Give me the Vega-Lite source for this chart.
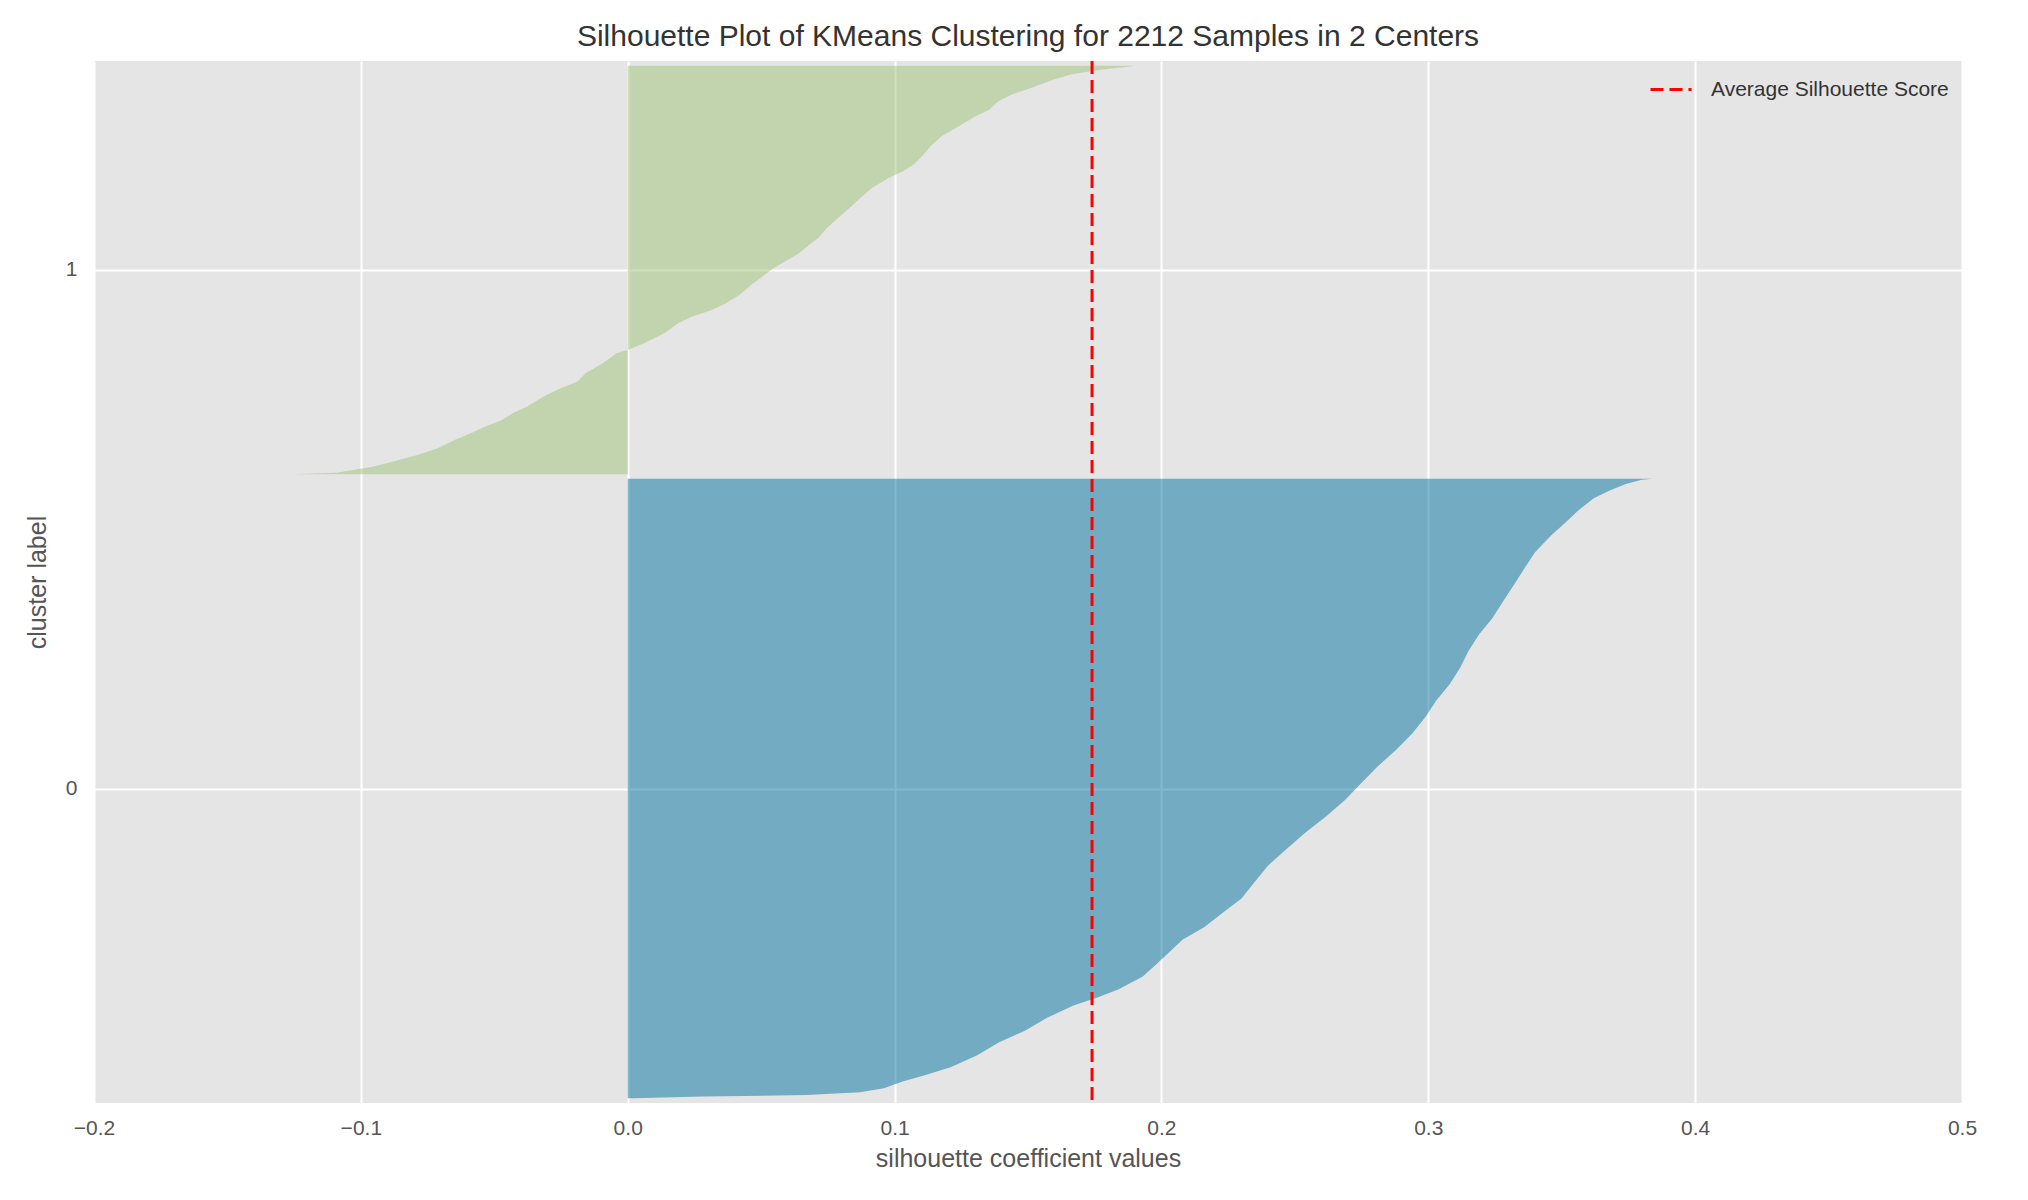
{
  "$schema": "https://vega.github.io/schema/vega-lite/v6.json",
  "autosize": "none",
  "padding": {"left": 94, "top": 61, "right": 66, "bottom": 97},
  "width": 1868,
  "height": 1042,
  "background": "white",
  "title": {
    "text": "Silhouette Plot of KMeans Clustering for 2212 Samples in 2 Centers",
    "fontSize": 30,
    "fontWeight": "normal",
    "color": "#333333",
    "offset": 8
  },
  "datasets": {
    "silhouette": [
      {"cluster": "0", "sample": 10, "coef": 0.002},
      {"cluster": "0", "sample": 14, "coef": 0.028},
      {"cluster": "0", "sample": 17, "coef": 0.067},
      {"cluster": "0", "sample": 23, "coef": 0.087},
      {"cluster": "0", "sample": 32, "coef": 0.096},
      {"cluster": "0", "sample": 46, "coef": 0.103},
      {"cluster": "0", "sample": 59, "coef": 0.111},
      {"cluster": "0", "sample": 77, "coef": 0.121},
      {"cluster": "0", "sample": 103, "coef": 0.131},
      {"cluster": "0", "sample": 130, "coef": 0.139},
      {"cluster": "0", "sample": 156, "coef": 0.149},
      {"cluster": "0", "sample": 183, "coef": 0.157},
      {"cluster": "0", "sample": 210, "coef": 0.167},
      {"cluster": "0", "sample": 227, "coef": 0.176},
      {"cluster": "0", "sample": 245, "coef": 0.184},
      {"cluster": "0", "sample": 272, "coef": 0.193},
      {"cluster": "0", "sample": 298, "coef": 0.198},
      {"cluster": "0", "sample": 325, "coef": 0.203},
      {"cluster": "0", "sample": 352, "coef": 0.208},
      {"cluster": "0", "sample": 378, "coef": 0.216},
      {"cluster": "0", "sample": 405, "coef": 0.222},
      {"cluster": "0", "sample": 440, "coef": 0.230},
      {"cluster": "0", "sample": 476, "coef": 0.235},
      {"cluster": "0", "sample": 511, "coef": 0.240},
      {"cluster": "0", "sample": 547, "coef": 0.247},
      {"cluster": "0", "sample": 582, "coef": 0.254},
      {"cluster": "0", "sample": 618, "coef": 0.262},
      {"cluster": "0", "sample": 653, "coef": 0.269},
      {"cluster": "0", "sample": 689, "coef": 0.275},
      {"cluster": "0", "sample": 724, "coef": 0.281},
      {"cluster": "0", "sample": 760, "coef": 0.288},
      {"cluster": "0", "sample": 795, "coef": 0.294},
      {"cluster": "0", "sample": 831, "coef": 0.299},
      {"cluster": "0", "sample": 866, "coef": 0.303},
      {"cluster": "0", "sample": 901, "coef": 0.308},
      {"cluster": "0", "sample": 937, "coef": 0.312},
      {"cluster": "0", "sample": 972, "coef": 0.315},
      {"cluster": "0", "sample": 1008, "coef": 0.319},
      {"cluster": "0", "sample": 1043, "coef": 0.324},
      {"cluster": "0", "sample": 1079, "coef": 0.328},
      {"cluster": "0", "sample": 1114, "coef": 0.332},
      {"cluster": "0", "sample": 1150, "coef": 0.336},
      {"cluster": "0", "sample": 1185, "coef": 0.340},
      {"cluster": "0", "sample": 1221, "coef": 0.346},
      {"cluster": "0", "sample": 1247, "coef": 0.351},
      {"cluster": "0", "sample": 1274, "coef": 0.356},
      {"cluster": "0", "sample": 1301, "coef": 0.362},
      {"cluster": "0", "sample": 1318, "coef": 0.368},
      {"cluster": "0", "sample": 1332, "coef": 0.374},
      {"cluster": "0", "sample": 1341, "coef": 0.380},
      {"cluster": "0", "sample": 1343, "coef": 0.384},
      {"cluster": "1", "sample": 1353, "coef": -0.1256},
      {"cluster": "1", "sample": 1356, "coef": -0.109},
      {"cluster": "1", "sample": 1362, "coef": -0.103},
      {"cluster": "1", "sample": 1369, "coef": -0.0956},
      {"cluster": "1", "sample": 1380, "coef": -0.0882},
      {"cluster": "1", "sample": 1394, "coef": -0.0788},
      {"cluster": "1", "sample": 1408, "coef": -0.0714},
      {"cluster": "1", "sample": 1426, "coef": -0.0651},
      {"cluster": "1", "sample": 1441, "coef": -0.0588},
      {"cluster": "1", "sample": 1455, "coef": -0.0536},
      {"cluster": "1", "sample": 1469, "coef": -0.0473},
      {"cluster": "1", "sample": 1484, "coef": -0.0431},
      {"cluster": "1", "sample": 1498, "coef": -0.0378},
      {"cluster": "1", "sample": 1520, "coef": -0.0315},
      {"cluster": "1", "sample": 1538, "coef": -0.0252},
      {"cluster": "1", "sample": 1552, "coef": -0.0189},
      {"cluster": "1", "sample": 1570, "coef": -0.0158},
      {"cluster": "1", "sample": 1591, "coef": -0.0095},
      {"cluster": "1", "sample": 1613, "coef": -0.0042},
      {"cluster": "1", "sample": 1620, "coef": 0.0},
      {"cluster": "1", "sample": 1635, "coef": 0.0063},
      {"cluster": "1", "sample": 1656, "coef": 0.0137},
      {"cluster": "1", "sample": 1678, "coef": 0.0189},
      {"cluster": "1", "sample": 1692, "coef": 0.0242},
      {"cluster": "1", "sample": 1706, "coef": 0.0315},
      {"cluster": "1", "sample": 1721, "coef": 0.0368},
      {"cluster": "1", "sample": 1739, "coef": 0.0420},
      {"cluster": "1", "sample": 1760, "coef": 0.0462},
      {"cluster": "1", "sample": 1778, "coef": 0.0504},
      {"cluster": "1", "sample": 1796, "coef": 0.0546},
      {"cluster": "1", "sample": 1814, "coef": 0.0599},
      {"cluster": "1", "sample": 1828, "coef": 0.0641},
      {"cluster": "1", "sample": 1843, "coef": 0.0672},
      {"cluster": "1", "sample": 1861, "coef": 0.0714},
      {"cluster": "1", "sample": 1882, "coef": 0.0746},
      {"cluster": "1", "sample": 1904, "coef": 0.0788},
      {"cluster": "1", "sample": 1925, "coef": 0.0830},
      {"cluster": "1", "sample": 1947, "coef": 0.0872},
      {"cluster": "1", "sample": 1968, "coef": 0.0914},
      {"cluster": "1", "sample": 1990, "coef": 0.0977},
      {"cluster": "1", "sample": 2004, "coef": 0.1029},
      {"cluster": "1", "sample": 2019, "coef": 0.1071},
      {"cluster": "1", "sample": 2037, "coef": 0.1103},
      {"cluster": "1", "sample": 2058, "coef": 0.1134},
      {"cluster": "1", "sample": 2080, "coef": 0.1176},
      {"cluster": "1", "sample": 2101, "coef": 0.1239},
      {"cluster": "1", "sample": 2123, "coef": 0.1303},
      {"cluster": "1", "sample": 2137, "coef": 0.1355},
      {"cluster": "1", "sample": 2155, "coef": 0.1387},
      {"cluster": "1", "sample": 2170, "coef": 0.1439},
      {"cluster": "1", "sample": 2180, "coef": 0.1492},
      {"cluster": "1", "sample": 2191, "coef": 0.1544},
      {"cluster": "1", "sample": 2202, "coef": 0.1597},
      {"cluster": "1", "sample": 2213, "coef": 0.1660},
      {"cluster": "1", "sample": 2220, "coef": 0.1733},
      {"cluster": "1", "sample": 2225, "coef": 0.1796},
      {"cluster": "1", "sample": 2229, "coef": 0.1870},
      {"cluster": "1", "sample": 2232, "coef": 0.1901}
    ],
    "average": [
      {"label": "Average Silhouette Score", "score": 0.174}
    ]
  },
  "layer": [
    {
      "data": {"name": "silhouette"},
      "mark": {"type": "area", "orient": "horizontal", "opacity": 0.5, "interpolate": "linear"},
      "encoding": {
        "y": {
          "field": "sample",
          "type": "quantitative",
          "title": "cluster label",
          "scale": {"domain": [0, 2242], "nice": false, "zero": false},
          "axis": {
            "values": [676.5, 1792.5],
            "labelExpr": "datum.value < 1000 ? '0' : '1'",
            "labelFontSize": 21,
            "labelColor": "#555555",
            "labelPadding": 17,
            "titleFontSize": 25,
            "titleFontWeight": "normal",
            "titleColor": "#555555",
            "titlePadding": 15
          }
        },
        "x": {
          "field": "coef",
          "type": "quantitative",
          "title": "silhouette coefficient values",
          "scale": {"domain": [-0.2, 0.5], "nice": false, "zero": false},
          "axis": {
            "values": [-0.2, -0.1, 0, 0.1, 0.2, 0.3, 0.4, 0.5],
            "format": ".1f",
            "labelFontSize": 21,
            "labelColor": "#555555",
            "labelPadding": 14,
            "labelFlush": false,
            "titleFontSize": 25,
            "titleFontWeight": "normal",
            "titleColor": "#555555",
            "titlePadding": 8
          }
        },
        "x2": {"datum": 0},
        "color": {
          "field": "cluster",
          "type": "nominal",
          "scale": {"domain": ["0", "1"], "range": ["#0272a2", "#9fc377"]},
          "legend": null
        }
      }
    },
    {
      "data": {"name": "average"},
      "mark": {"type": "rule", "strokeDash": [13, 6], "strokeWidth": 3},
      "encoding": {
        "x": {"field": "score", "type": "quantitative"},
        "stroke": {
          "field": "label",
          "type": "nominal",
          "scale": {"range": ["#ff0000"]},
          "legend": {
            "title": null,
            "orient": "none",
            "legendX": 1555,
            "legendY": 6.5,
            "padding": 0,
            "symbolType": "stroke",
            "symbolDash": [13, 6],
            "symbolStrokeWidth": 3,
            "symbolSize": 1681,
            "labelFontSize": 21,
            "labelColor": "#333333",
            "labelOffset": 18,
            "labelLimit": 0
          }
        }
      }
    }
  ],
  "config": {
    "font": "Liberation Sans",
    "view": {"fill": "#E5E5E5", "stroke": null},
    "axis": {
      "grid": true,
      "gridColor": "#ffffff",
      "gridWidth": 2,
      "gridOpacity": 1,
      "domain": false,
      "ticks": false
    }
  }
}
